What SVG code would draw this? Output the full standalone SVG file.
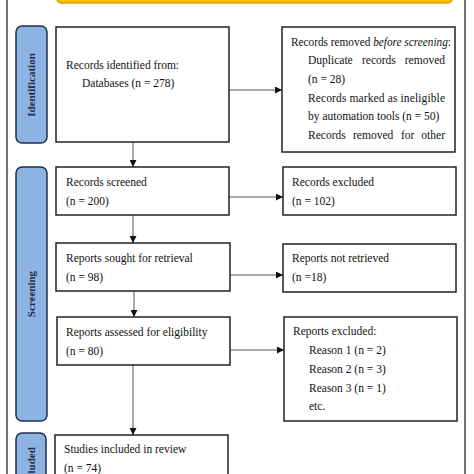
<svg xmlns="http://www.w3.org/2000/svg" width="474" height="474" viewBox="0 0 474 474">
<style>
.bg{fill:#ffffff}
.frame{fill:none;stroke:#444;stroke-width:1.5}
.hdr{fill:#FFC000;stroke:#E09A00;stroke-width:1.5}
.lab{fill:#8DB3E2;stroke:#1F2F4A;stroke-width:1.5}
.box{fill:#ffffff;stroke:#222;stroke-width:1.5}
.t{font-family:"Liberation Serif","Times New Roman",serif;font-size:11.5px;fill:#111}
.lt{font-family:"Liberation Serif","Times New Roman",serif;font-size:11px;font-weight:bold;fill:#1F2F4A}
.c{fill:none;stroke:#555;stroke-width:1}
</style>
<defs>
<marker id="ah" viewBox="0 0 10 10" refX="10" refY="5" markerWidth="7" markerHeight="7" markerUnits="userSpaceOnUse" orient="auto">
<path d="M0,0 L10,5 L0,10 z" fill="#111"/>
</marker>
</defs>
<rect class="bg" x="0" y="0" width="474" height="474"/>
<rect class="frame" x="7" y="-10" width="458" height="500"/>
<rect id="header" class="hdr" x="57" y="-20" width="395" height="23" rx="4"/>

<g id="label-identification">
<rect class="lab" x="16" y="26" width="31" height="117" rx="6"/>
<text class="lt" transform="translate(31,85) rotate(-90)" text-anchor="middle" dominant-baseline="central">Identification</text>
</g>
<g id="label-screening">
<rect class="lab" x="16" y="167" width="31" height="254" rx="6"/>
<text class="lt" transform="translate(31,294) rotate(-90)" text-anchor="middle" dominant-baseline="central">Screening</text>
</g>
<g id="label-included">
<rect class="lab" x="16" y="433" width="30" height="70" rx="6"/>
<text class="lt" transform="translate(31,468) rotate(-90)" text-anchor="middle" dominant-baseline="central">Included</text>
</g>

<g id="connectors">
<line class="c" x1="133" y1="142" x2="133" y2="167" marker-end="url(#ah)"/>
<line class="c" x1="229" y1="90" x2="282" y2="90" marker-end="url(#ah)"/>
<line class="c" x1="133" y1="215" x2="133" y2="243" marker-end="url(#ah)"/>
<line class="c" x1="229" y1="197" x2="283" y2="197" marker-end="url(#ah)"/>
<line class="c" x1="134" y1="291" x2="134" y2="317" marker-end="url(#ah)"/>
<line class="c" x1="230" y1="275" x2="283" y2="275" marker-end="url(#ah)"/>
<line class="c" x1="230" y1="350" x2="284" y2="350" marker-end="url(#ah)"/>
<line class="c" x1="133" y1="365" x2="133" y2="435" marker-end="url(#ah)"/>
</g>

<g id="records-identified">
<rect class="box" x="56" y="27" width="173" height="115"/>
<text class="t" x="66" y="69">Records identified from:</text>
<text class="t" x="82" y="87">Databases (n = 278)</text>
</g>

<g id="records-removed">
<rect class="box" x="282" y="27" width="173" height="125"/>
<text class="t" x="291" y="46" textLength="160" lengthAdjust="spacingAndGlyphs">Records removed <tspan font-style="italic">before screening</tspan>:</text>
<text class="t" y="64"><tspan x="308">Duplicate</tspan><tspan x="362">records</tspan><tspan x="445" text-anchor="end">removed</tspan></text>
<text class="t" x="308" y="83">(n = 28)</text>
<text class="t" x="308" y="102" textLength="137" lengthAdjust="spacing">Records marked as ineligible</text>
<text class="t" x="308" y="120">by automation tools (n = 50)</text>
<text class="t" y="139"><tspan x="308">Records</tspan><tspan x="353">removed</tspan><tspan x="401">for</tspan><tspan x="445" text-anchor="end">other</tspan></text>
</g>

<g id="records-screened">
<rect class="box" x="56" y="167" width="173" height="48"/>
<text class="t" x="66" y="186">Records screened</text>
<text class="t" x="66" y="205">(n = 200)</text>
</g>

<g id="records-excluded">
<rect class="box" x="283" y="167" width="173" height="48"/>
<text class="t" x="292" y="186">Records excluded</text>
<text class="t" x="292" y="205">(n = 102)</text>
</g>

<g id="reports-sought">
<rect class="box" x="56" y="243" width="174" height="48"/>
<text class="t" x="66" y="262">Reports sought for retrieval</text>
<text class="t" x="66" y="281">(n = 98)</text>
</g>

<g id="reports-not-retrieved">
<rect class="box" x="283" y="244" width="173" height="48"/>
<text class="t" x="292" y="262">Reports not retrieved</text>
<text class="t" x="292" y="281">(n =18)</text>
</g>

<g id="reports-assessed">
<rect class="box" x="57" y="317" width="173" height="48"/>
<text class="t" x="66" y="336">Reports assessed for eligibility</text>
<text class="t" x="66" y="355">(n = 80)</text>
</g>

<g id="reports-excluded">
<rect class="box" x="284" y="317" width="173" height="104"/>
<text class="t" x="293" y="335">Reports excluded:</text>
<text class="t" x="309" y="354">Reason 1 (n = 2)</text>
<text class="t" x="309" y="373">Reason 2 (n = 3)</text>
<text class="t" x="309" y="392">Reason 3 (n = 1)</text>
<text class="t" x="309" y="410">etc.</text>
</g>

<g id="studies-included">
<rect class="box" x="55" y="435" width="173" height="60"/>
<text class="t" x="64" y="453">Studies included in review</text>
<text class="t" x="64" y="472">(n = 74)</text>
</g>
</svg>
